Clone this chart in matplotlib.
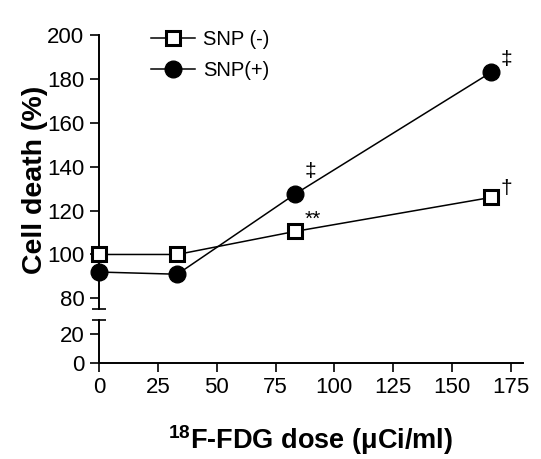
import matplotlib
matplotlib.use("Agg")
import matplotlib.pyplot as plt

plt.rcParams['font.family'] = ['Liberation Sans', 'DejaVu Sans']
plt.rcParams['mathtext.fontset'] = 'custom'
plt.rcParams['mathtext.rm'] = 'Liberation Sans'
plt.rcParams['mathtext.bf'] = 'Liberation Sans:bold'

# Data
dose = [0, 33.3, 83.3, 166.7]
snp_minus = [100, 100, 110.5, 126]
snp_plus = [92, 91, 127.5, 183]
x_ticks = [0, 25, 50, 75, 100, 125, 150, 175]
top_ticks = [80, 100, 120, 140, 160, 180, 200]
bottom_ticks = [0, 20]

# significance marks: (x, y, text)
marks_x = [83.3, 83.3, 166.7, 166.7]
marks_y = [138, 116, 130, 189]
marks_txt = ['‡', '**', '†', '‡']

fig = plt.figure(figsize=(5.41, 4.59), dpi=100)
ax_top = fig.add_axes([0.183, 0.326, 0.783, 0.598])
ax_bot = fig.add_axes([0.183, 0.2098, 0.783, 0.093])

lw = 1.1
for ax in (ax_top, ax_bot):
    ax.set_xlim(0, 180)
    ax.spines['top'].set_visible(False)
    ax.spines['right'].set_visible(False)
    ax.spines['left'].set_linewidth(1.4)
    ax.spines['bottom'].set_linewidth(1.4)
    ax.tick_params(direction='out', length=6.5, width=1.2, labelsize=16, pad=4)

# top segment
ax_top.plot(dose, snp_minus, '-', color='black', lw=lw, marker='s', ms=10,
            mfc='white', mec='black', mew=2.2, clip_on=False, label='SNP (-)', zorder=3)
ax_top.plot(dose, snp_plus, '-', color='black', lw=lw, marker='o', ms=12,
            mfc='black', mec='black', clip_on=False, label='SNP(+)', zorder=4)
ax_top.set_ylim(75, 200)
ax_top.set_yticks(top_ticks)
ax_top.set_yticks([75], minor=True)
ax_top.tick_params(axis='y', which='minor', direction='inout', length=10, width=1.2)
ax_top.spines['bottom'].set_visible(False)
ax_top.set_xticks([])
ax_top.set_ylabel('Cell death (%)', fontsize=20.5, fontweight='bold')
ax_top.yaxis.set_label_coords(-0.12, 0.47)

for x, y, t in zip(marks_x, marks_y, marks_txt):
    ax_top.text(x + 4, y, t, fontsize=15, ha='left', va='center')

ax_top.legend(loc='upper left', bbox_to_anchor=(0.08, 1.085), frameon=False,
              fontsize=14.5, handlelength=2.2, handletextpad=0.4, labelspacing=0.6)

# bottom segment
ax_bot.set_ylim(0, 30)
ax_bot.set_yticks(bottom_ticks)
ax_bot.set_yticks([30], minor=True)
ax_bot.tick_params(axis='y', which='minor', direction='inout', length=10, width=1.2)
ax_bot.set_xticks(x_ticks)
ax_bot.set_xlabel(r'$^{\mathbf{18}}$F-FDG dose (μCi/ml)', fontsize=19.5,
                  fontweight='bold')
ax_bot.xaxis.set_label_coords(0.5, -1.41)

fig.savefig('out.png', dpi=100)
